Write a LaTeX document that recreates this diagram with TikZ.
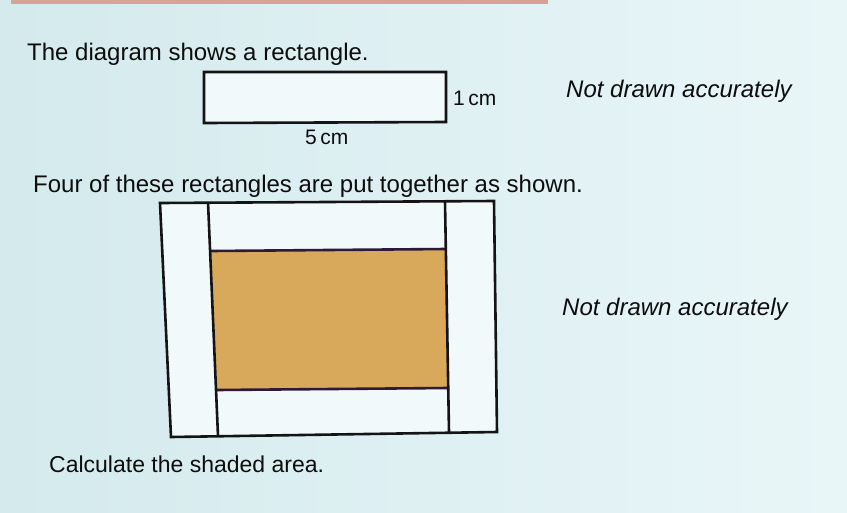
\documentclass[tikz,border=0pt]{standalone}
\usepackage{fontspec}
\setmainfont{Liberation Sans}
\begin{document}
\begin{tikzpicture}[x=1pt,y=-1pt,
  txt/.style={inner sep=0pt,anchor=base west,text=black!95,font=\fontsize{24}{28}\selectfont},
  smalltxt/.style={txt,font=\fontsize{21}{24}\selectfont},
  itxt/.style={txt,font=\fontsize{24}{28}\selectfont\itshape},
  edge/.style={draw=black!92,line width=2.6pt,line join=miter},
  shadeedge/.style={draw={rgb,255:red,45;green,25;blue,60},line width=2.6pt,line join=miter}]
\definecolor{bgleft}{RGB}{212,234,237}
\definecolor{bgright}{RGB}{233,246,248}
\definecolor{shadedfill}{RGB}{216,169,90}
\definecolor{topbar}{RGB}{214,163,150}
\useasboundingbox (0,0) rectangle (847,512);
\shade[left color=bgleft,right color=bgright] (0,0) rectangle (847,512);
\fill[topbar] (11,0) rectangle (548,4);
% texts
\node[txt] (title) at (27,60) {The diagram shows a rectangle.};
\node[smalltxt] (one) at (453,105) {1\,cm};
\node[smalltxt] (five) at (305,144) {5\,cm};
\node[itxt] (nda1) at (566,97) {Not drawn accurately};
\node[txt] (four) at (33,192) {Four of these rectangles are put together as shown.};
\node[itxt] (nda2) at (562,315) {Not drawn accurately};
\node[txt,font=\fontsize{23}{27}\selectfont] (calc) at (49,472) {Calculate the shaded area.};
% small rectangle
\coordinate (s1) at (204,72);
\coordinate (s2) at (446,72);
\coordinate (s3) at (446,122);
\coordinate (s4) at (204,123);
\fill[white!35!bgright] (s1) -- (s2) -- (s3) -- (s4) -- cycle;
\draw[edge] (s1) -- (s2) -- (s3) -- (s4) -- cycle;
% big arrangement
\coordinate (o1) at (160,203);
\coordinate (o2) at (494,201);
\coordinate (o3) at (497,432);
\coordinate (o4) at (171,437);
\coordinate (lt) at (208,202);
\coordinate (lb) at (218,436);
\coordinate (rt) at (445,201);
\coordinate (rb) at (449,432);
\coordinate (h1) at (211,251);
\coordinate (h2) at (446,249);
\coordinate (h3) at (448,388);
\coordinate (h4) at (217,390);
\fill[white!35!bgright] (o1) -- (o2) -- (o3) -- (o4) -- cycle;
\fill[shadedfill] (h1) -- (h2) -- (h3) -- (h4) -- cycle;
\draw[shadeedge] (h1) -- (h2) (h4) -- (h3);
\draw[edge] (lt) -- (lb);
\draw[edge] (rt) -- (rb);
\draw[edge] (o1) -- (o2) -- (o3) -- (o4) -- cycle;
\end{tikzpicture}
\end{document}
